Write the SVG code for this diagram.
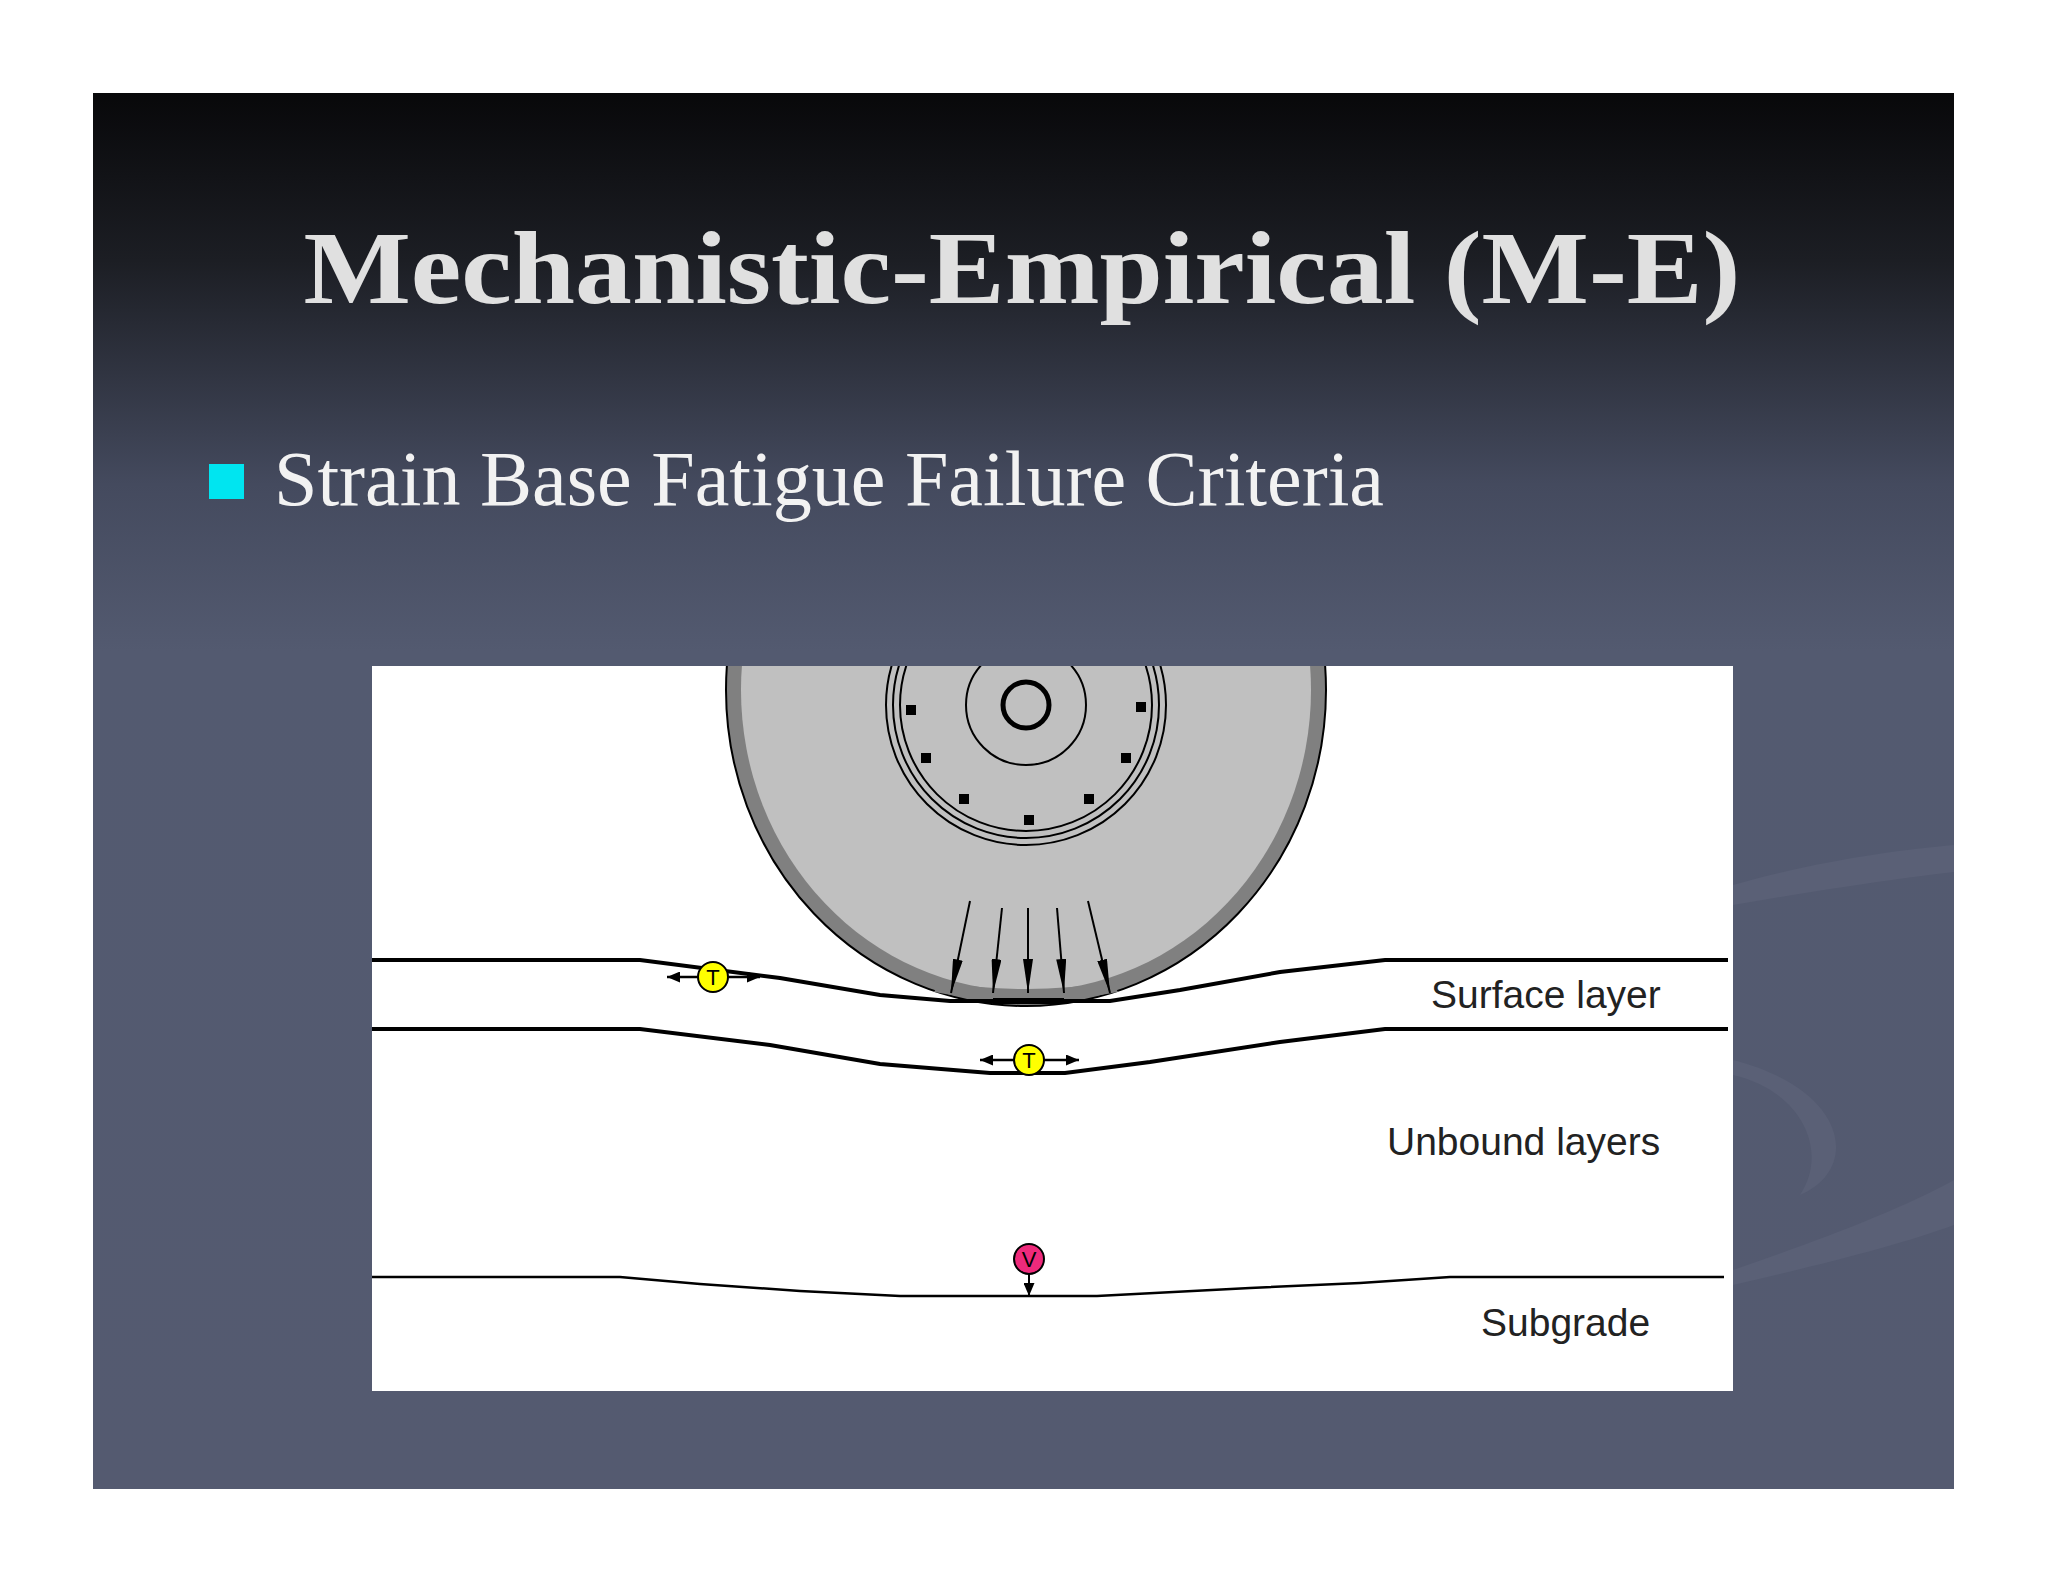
<svg xmlns="http://www.w3.org/2000/svg" width="2048" height="1582" viewBox="0 0 2048 1582">
<defs>
<linearGradient id="bg" x1="0" y1="0" x2="0" y2="1">
<stop offset="0" stop-color="#08080a"/>
<stop offset="0.12" stop-color="#1c1e24"/>
<stop offset="0.28" stop-color="#444a5e"/>
<stop offset="0.4" stop-color="#535a70"/>
<stop offset="1" stop-color="#545a70"/>
</linearGradient>
<clipPath id="panel"><rect x="372" y="666" width="1361" height="725"/></clipPath>
<marker id="ap" viewBox="0 0 10 10" refX="10" refY="5" markerWidth="34" markerHeight="10" markerUnits="userSpaceOnUse" orient="auto" preserveAspectRatio="none"><path d="M0,0 L10,5 L0,10 Z" fill="#000"/></marker>
<marker id="as" viewBox="0 0 10 10" refX="10" refY="5" markerWidth="13" markerHeight="11" markerUnits="userSpaceOnUse" orient="auto" preserveAspectRatio="none"><path d="M0,0 L10,5 L0,10 Z" fill="#000"/></marker>
</defs>
<style>
.lbl{font-family:"Liberation Sans",Arial,sans-serif;font-size:39px;fill:#222}
.road{fill:none;stroke:#000;stroke-width:4}
.ring{fill:none;stroke:#000;stroke-width:2}
.mk{font-family:"Liberation Sans",Arial,sans-serif;font-size:22px;fill:#000;text-anchor:middle}
.bolt{fill:#000}
.sw{fill:#5a6076}
</style>
<rect width="2048" height="1582" fill="#fff"/>
<rect x="93" y="93" width="1861" height="1396" fill="url(#bg)"/>
<path class="sw" d="M1733,885 C1820,860 1900,850 1954,845 L1954,872 C1900,878 1820,890 1733,905 Z"/>
<path class="sw" d="M1733,1060 C1850,1090 1860,1170 1800,1195 C1830,1150 1800,1090 1733,1075 Z"/>
<path class="sw" d="M1733,1270 C1820,1240 1900,1210 1954,1180 L1954,1225 C1900,1245 1820,1265 1733,1285 Z"/>
<text x="1022" y="303" font-family="'Liberation Serif','Times New Roman',serif" font-weight="bold" font-size="104" fill="#e0e0e0" text-anchor="middle" textLength="1437" lengthAdjust="spacingAndGlyphs">Mechanistic-Empirical (M-E)</text>
<rect x="209" y="464" width="35" height="35" fill="#00e5f0"/>
<text x="274" y="505" font-family="'Liberation Serif','Times New Roman',serif" font-size="78" fill="#f2f2f2" textLength="1110" lengthAdjust="spacingAndGlyphs">Strain Base Fatigue Failure Criteria</text>
<rect x="372" y="666" width="1361" height="725" fill="#fff"/>
<g id="wheel" clip-path="url(#panel)">
<ellipse cx="1026" cy="690" rx="300" ry="316" fill="#808080" stroke="#000" stroke-width="2"/>
<ellipse cx="1026" cy="690" rx="285" ry="301" fill="#c0c0c0"/>
<path d="M940,982 Q1026,996 1112,982 L1118,992 Q1026,1010 934,992 Z" fill="#808080"/>
<ellipse cx="1026" cy="705" rx="140" ry="140" fill="#fff" class="ring"/>
<ellipse cx="1026" cy="705" rx="133" ry="133" class="ring"/>
<ellipse cx="1026" cy="705" rx="126" ry="126" class="ring"/>
<ellipse cx="1026" cy="705" rx="60" ry="60" class="ring"/>
<ellipse cx="1026" cy="705" rx="23" ry="23" fill="none" stroke="#000" stroke-width="5"/>
<rect class="bolt" x="906" y="705" width="10" height="10"/>
<rect class="bolt" x="1136" y="702" width="10" height="10"/>
<rect class="bolt" x="921" y="753" width="10" height="10"/>
<rect class="bolt" x="1121" y="753" width="10" height="10"/>
<rect class="bolt" x="959" y="794" width="10" height="10"/>
<rect class="bolt" x="1084" y="794" width="10" height="10"/>
<rect class="bolt" x="1024" y="815" width="10" height="10"/>
</g>
<g id="connectors">
<path class="road" d="M372,960 L640,960 L780,978 L880,995 L950,1001 L1110,1001 L1180,990 L1280,972 L1385,960 L1728,960"/>
<rect x="993" y="998" width="71" height="6" fill="#000"/>
<path class="road" d="M372,1029 L640,1029 L770,1045 L880,1064 L990,1073 L1065,1073 L1150,1062 L1280,1042 L1385,1029 L1728,1029"/>
<path fill="none" stroke="#000" stroke-width="2.5" d="M372,1277 L620,1277 L700,1284 L800,1291 L900,1296 L1097,1296 L1250,1288 L1360,1283 L1450,1277 L1724,1277"/>
<line x1="970" y1="901" x2="951" y2="993" stroke="#000" stroke-width="2" marker-end="url(#ap)"/>
<line x1="1002" y1="908" x2="993" y2="993" stroke="#000" stroke-width="2" marker-end="url(#ap)"/>
<line x1="1028" y1="908" x2="1028" y2="993" stroke="#000" stroke-width="2" marker-end="url(#ap)"/>
<line x1="1057" y1="908" x2="1064" y2="993" stroke="#000" stroke-width="2" marker-end="url(#ap)"/>
<line x1="1088" y1="901" x2="1110" y2="993" stroke="#000" stroke-width="2" marker-end="url(#ap)"/>
<line x1="713" y1="977" x2="667" y2="977" stroke="#000" stroke-width="2.5" marker-end="url(#as)"/>
<line x1="713" y1="977" x2="760" y2="977" stroke="#000" stroke-width="2.5" marker-end="url(#as)"/>
<line x1="1029" y1="1060" x2="980" y2="1060" stroke="#000" stroke-width="2.5" marker-end="url(#as)"/>
<line x1="1029" y1="1060" x2="1079" y2="1060" stroke="#000" stroke-width="2.5" marker-end="url(#as)"/>
<line x1="1029" y1="1270" x2="1029" y2="1296" stroke="#000" stroke-width="2" marker-end="url(#as)"/>
</g>
<g id="T1"><ellipse cx="713" cy="977" rx="15" ry="15" fill="#ffff00" stroke="#000" stroke-width="2"/><text class="mk" x="713" y="985">T</text></g>
<g id="T2"><ellipse cx="1029" cy="1060" rx="15" ry="15" fill="#ffff00" stroke="#000" stroke-width="2"/><text class="mk" x="1029" y="1068">T</text></g>
<g id="V"><ellipse cx="1029" cy="1259" rx="15" ry="15" fill="#ee2a7b" stroke="#000" stroke-width="2"/><text class="mk" x="1029" y="1267">V</text></g>
<g id="surface"><text class="lbl" x="1431" y="1008">Surface layer</text></g>
<g id="unbound"><text class="lbl" x="1387" y="1155">Unbound layers</text></g>
<g id="subgrade"><text class="lbl" x="1481" y="1336">Subgrade</text></g>
</svg>
